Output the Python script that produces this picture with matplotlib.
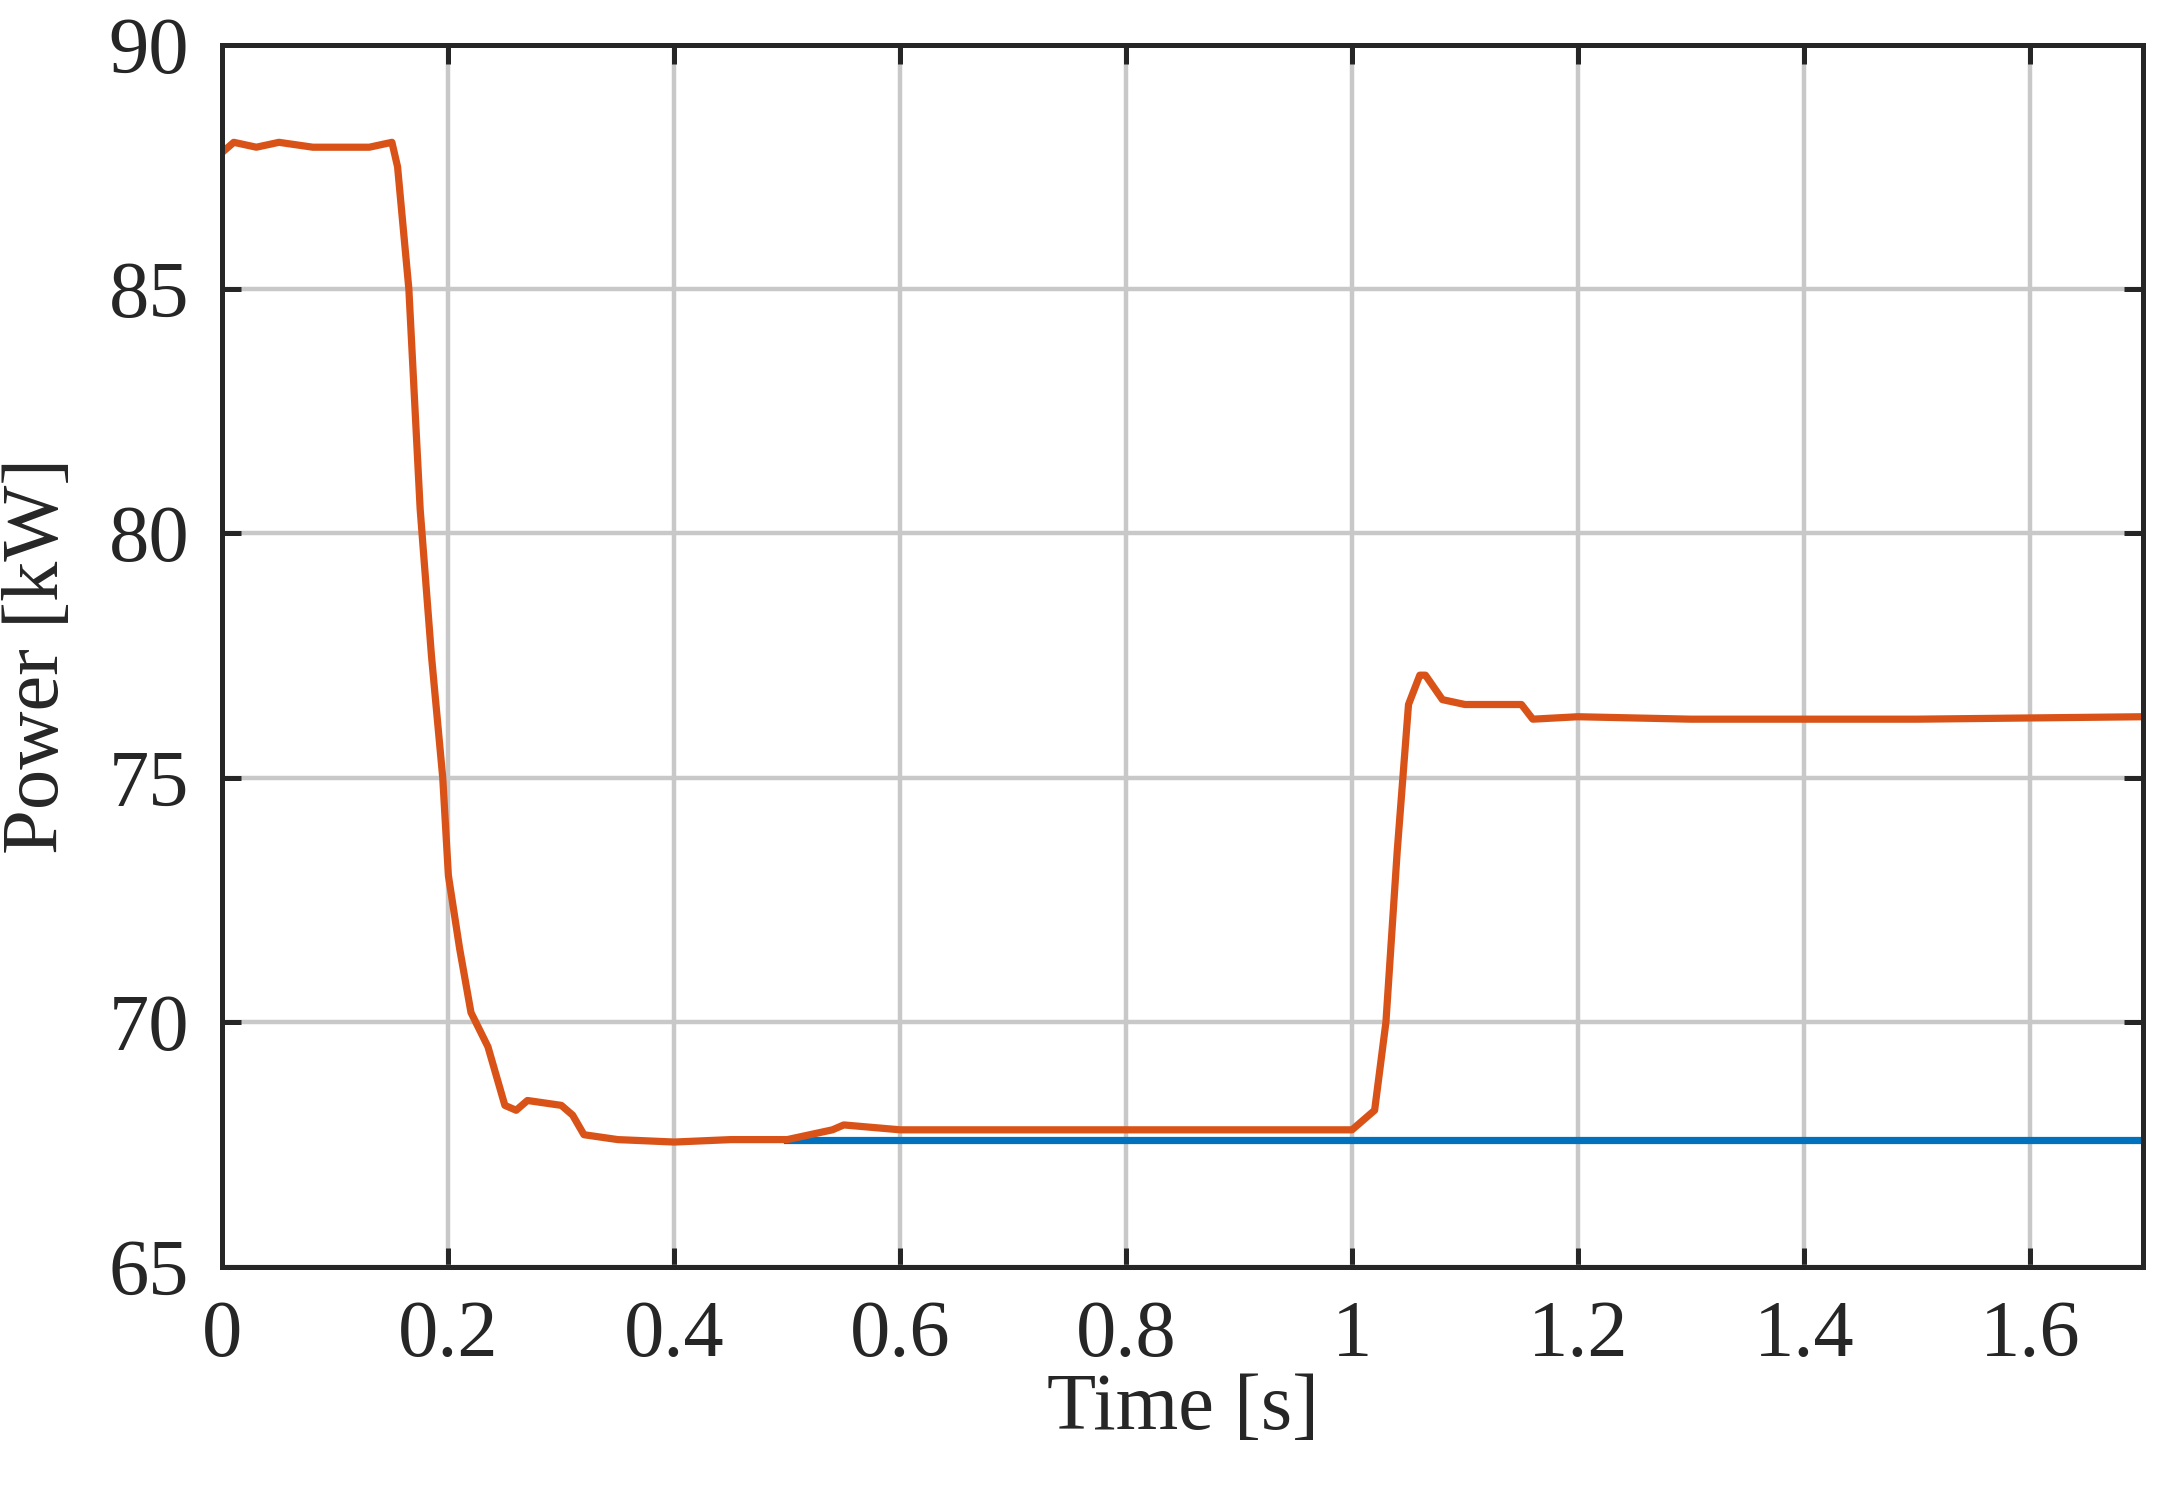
import matplotlib.pyplot as plt

# orange trace breakpoints
t_orange = [0, 0.01, 0.03, 0.05, 0.08, 0.10, 0.13, 0.15, 0.155, 0.165, 0.175, 0.185,
            0.195, 0.20, 0.21, 0.22, 0.235, 0.25, 0.26, 0.27, 0.30, 0.31, 0.32, 0.35,
            0.40, 0.45, 0.50, 0.54, 0.55, 0.60, 0.70, 0.80, 0.90, 1.00, 1.02, 1.03,
            1.04, 1.05, 1.06, 1.065, 1.08, 1.10, 1.15, 1.16, 1.20, 1.30, 1.40, 1.50, 1.70]
p_orange = [87.8, 88.0, 87.9, 88.0, 87.9, 87.9, 87.9, 88.0, 87.5, 85.0, 80.5, 77.5,
            75.0, 73.0, 71.5, 70.2, 69.5, 68.3, 68.2, 68.4, 68.3, 68.1, 67.7, 67.6,
            67.55, 67.6, 67.6, 67.8, 67.9, 67.8, 67.8, 67.8, 67.8, 67.8, 68.2, 70.0,
            73.5, 76.5, 77.1, 77.1, 76.6, 76.5, 76.5, 76.2, 76.25, 76.2, 76.2, 76.2, 76.25]

# blue trace (visible from ~0.5 s)
t_blue = [0.50, 0.60, 0.70, 0.80, 0.90, 1.00, 1.10, 1.20, 1.30, 1.40, 1.50, 1.60, 1.70]
p_blue = [67.6, 67.6, 67.6, 67.6, 67.6, 67.6, 67.6, 67.6, 67.6, 67.6, 67.6, 67.6, 67.6]

x_ticks = [0, 0.2, 0.4, 0.6, 0.8, 1.0, 1.2, 1.4, 1.6]
x_labels = ["0", "0.2", "0.4", "0.6", "0.8", "1", "1.2", "1.4", "1.6"]
y_ticks = [65, 70, 75, 80, 85, 90]

plt.rcParams["font.family"] = ["Liberation Serif", "DejaVu Serif"]

fig = plt.figure(figsize=(10.8, 7.425), dpi=200)
ax = fig.add_axes([0.103, 0.147, 0.889, 0.823])

ax.plot(t_blue, p_blue, color="#0072BD", linewidth=2.6)
ax.plot(t_orange, p_orange, color="#D95319", linewidth=2.6)

ax.set_xlim(0, 1.7)
ax.set_ylim(65, 90)
ax.set_xticks(x_ticks)
ax.set_xticklabels(x_labels)
ax.set_yticks(y_ticks)
ax.grid(True, color="#c8c8c8", linewidth=1.6)
ax.set_axisbelow(True)
ax.tick_params(direction="in", top=True, right=True, labelsize=29,
               length=7, width=1.8, pad=12, colors="#262626")
for s in ax.spines.values():
    s.set_linewidth(1.8)
    s.set_color("#262626")

ax.set_xlabel("Time [s]", fontsize=29, labelpad=0, color="#262626")
ax.set_ylabel("Power [kW]", fontsize=29, labelpad=12, color="#262626")

fig.savefig("out.png", dpi=200)
